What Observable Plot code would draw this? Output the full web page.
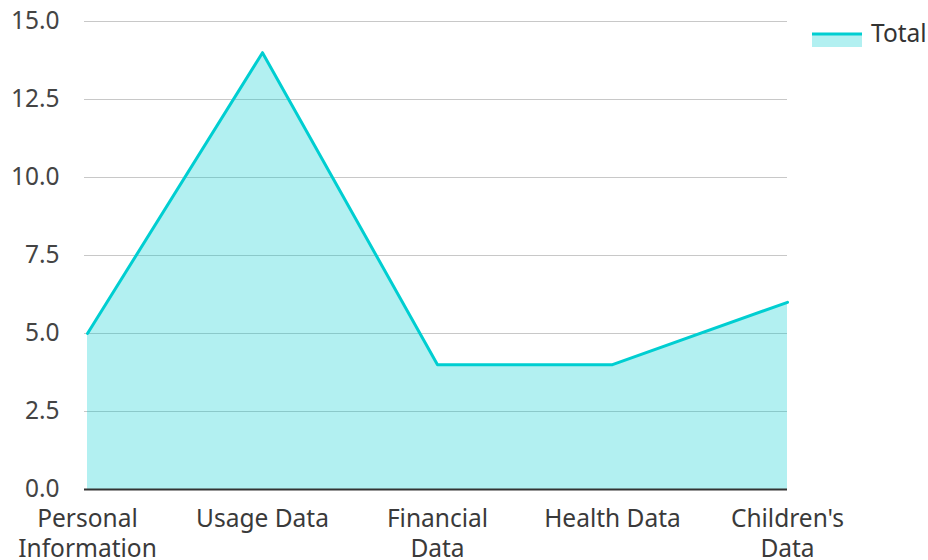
<!DOCTYPE html>
<html>
<head>
<meta charset="utf-8">
<script src="https://cdn.jsdelivr.net/npm/d3@7"></script>
<script src="https://cdn.jsdelivr.net/npm/@observablehq/plot@0.6"></script>
<style>
  html, body { margin: 0; padding: 0; background: #fff; }
  #wrap { position: relative; width: 928px; height: 560px; font-family: "Noto Sans", sans-serif; }
  #legend { position: absolute; left: 812px; top: 16px; display: flex; align-items: center; font-size: 24.5px; color: #333; }
  #legend svg { margin-right: 9px; }
</style>
</head>
<body>
<div id="wrap"><div id="legend"></div></div>
<script>
const categories = ["Personal Information", "Usage Data", "Financial Data", "Health Data", "Children's Data"];
const tickLabels = ["Personal\nInformation", "Usage Data", "Financial\nData", "Health Data", "Children's\nData"];
const totals = [5, 14, 4, 4, 6];
const yTicks = [0, 2.5, 5, 7.5, 10, 12.5, 15];
const seriesName = "Total";
const lineColor = "#00ced1";

const data = categories.map((c, i) => ({category: c, value: totals[i]}));
const labelOf = new Map(categories.map((c, i) => [c, tickLabels[i]]));

const chart = Plot.plot({
  width: 928,
  height: 560,
  marginLeft: 86,
  marginRight: 141,
  marginTop: 21,
  marginBottom: 71,
  style: {fontFamily: "Noto Sans, sans-serif", fontSize: "24.5px", color: "#333", background: "#fff", overflow: "visible"},
  x: {type: "point", domain: categories, padding: 0, axis: null, label: null},
  y: {domain: [0, 15], axis: null, label: null},
  marks: [
    Plot.ruleY(yTicks.filter(d => d > 0), {stroke: "#c8c8c8", strokeWidth: 1.2, insetLeft: -2}),
    Plot.areaY(data, {x: "category", y: "value", fill: lineColor, fillOpacity: 0.3, curve: "linear"}),
    Plot.lineY(data, {x: "category", y: "value", stroke: lineColor, strokeWidth: 3, curve: "linear"}),
    Plot.ruleY([0], {stroke: "#333", strokeWidth: 2, insetLeft: -2}),
    Plot.axisY({ticks: yTicks, tickFormat: d => d.toFixed(1), tickSize: 0, tickPadding: 27, fontSize: 24.5, fill: "#444", label: null}),
    Plot.axisX({tickSize: 0, tickPadding: 16.5, tickFormat: d => labelOf.get(d), fontSize: 24.5, fill: "#3a3a3a", lineHeight: 1.22, lineAnchor: "top", label: null})
  ]
});
document.getElementById("wrap").prepend(chart);

const legend = document.getElementById("legend");
legend.innerHTML = `<svg width="50" height="30"><rect x="0" y="16" width="50" height="13" fill="${lineColor}" fill-opacity="0.3"></rect><line x1="0" x2="50" y1="16" y2="16" stroke="${lineColor}" stroke-width="3"></line></svg><span>${seriesName}</span>`;
</script>
</body>
</html>
